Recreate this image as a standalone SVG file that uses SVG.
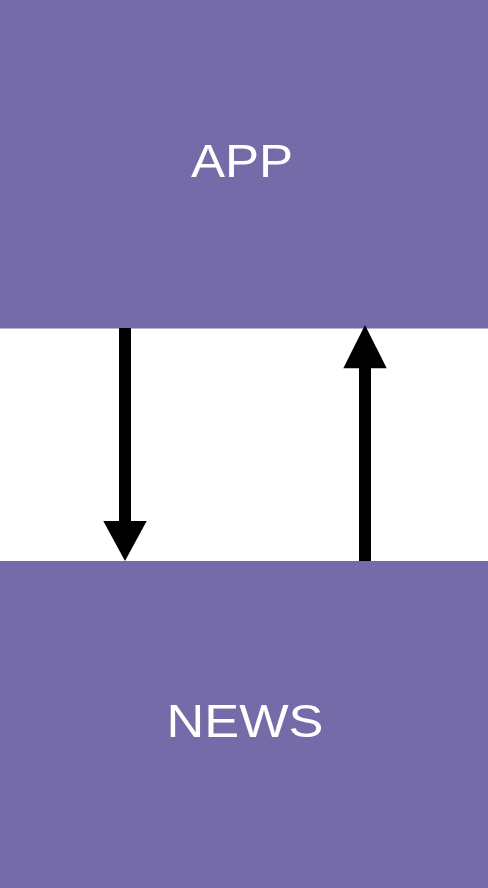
<svg xmlns="http://www.w3.org/2000/svg" width="488" height="888" viewBox="0 0 488 888">
<style>
.box{fill:#756ba8}
.lbl{fill:#ffffff;font-family:"Liberation Sans",Arial,sans-serif;font-size:47px;text-anchor:middle}
.shaft{stroke:#000;stroke-width:12;fill:none}
.head{fill:#000}
</style>
<rect width="488" height="888" fill="#ffffff"/>
<g id="app">
<rect class="box" x="0" y="0" width="488" height="328.5"/>
<text class="lbl" x="242" y="177" textLength="102" lengthAdjust="spacingAndGlyphs">APP</text>
</g>
<g id="news">
<rect class="box" x="0" y="561" width="488" height="327"/>
<text class="lbl" x="245" y="737" textLength="157" lengthAdjust="spacingAndGlyphs">NEWS</text>
</g>
<g id="connectors">
<line class="shaft" x1="125" y1="328" x2="125" y2="522"/>
<polygon class="head" points="103.3,521 146.7,521 125,561"/>
<line class="shaft" x1="365" y1="561" x2="365" y2="367"/>
<polygon class="head" points="343.3,368.3 386.7,368.3 365,325"/>
</g>
</svg>
